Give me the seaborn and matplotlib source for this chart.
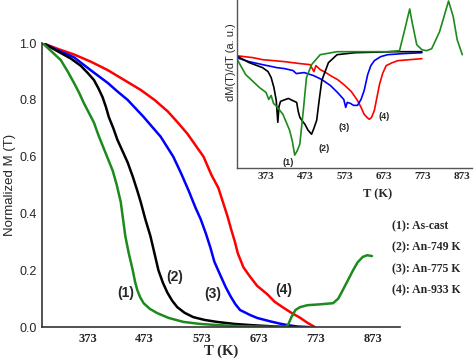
import matplotlib
matplotlib.use("Agg")
import matplotlib.pyplot as plt
import seaborn as sns

# Curvas principales: M(T) normalizada
t_ascast = [294, 310, 326, 338, 349, 358, 366, 375, 384, 392, 401, 409, 417, 424, 431, 435, 439, 445, 452, 456, 460, 465, 471, 482, 495, 515, 541, 570, 600, 640, 690, 718, 724, 730, 737, 745, 758, 780, 803, 812, 820, 829, 838, 846, 855, 863, 871]
m_ascast = [1.0, 0.97, 0.94, 0.90, 0.86, 0.825, 0.79, 0.755, 0.72, 0.675, 0.63, 0.59, 0.55, 0.50, 0.44, 0.38, 0.32, 0.26, 0.20, 0.16, 0.13, 0.105, 0.084, 0.064, 0.049, 0.032, 0.018, 0.011, 0.007, 0.003, 0.001, 0.0, 0.007, 0.035, 0.06, 0.07, 0.077, 0.08, 0.084, 0.10, 0.13, 0.165, 0.20, 0.228, 0.247, 0.253, 0.25]

t_an749 = [294, 310, 326, 344, 361, 373, 384, 392, 399, 405, 410, 418, 425, 434, 443, 452, 460, 466, 474, 483, 490, 497, 505, 513, 521, 530, 543, 558, 578, 600, 630, 658, 700, 740]
m_an749 = [1.0, 0.983, 0.965, 0.945, 0.92, 0.895, 0.87, 0.84, 0.81, 0.775, 0.74, 0.70, 0.66, 0.62, 0.58, 0.53, 0.48, 0.44, 0.38, 0.32, 0.26, 0.20, 0.155, 0.12, 0.093, 0.07, 0.05, 0.035, 0.025, 0.018, 0.011, 0.007, 0.002, 0.0]

t_an775 = [294, 320, 349, 378, 408, 425, 443, 457, 471, 486, 501, 512, 523, 537, 550, 562, 571, 580, 588, 595, 606, 615, 624, 632, 640, 658, 670, 693, 710, 723, 740, 760]
m_an775 = [1.0, 0.975, 0.95, 0.905, 0.86, 0.83, 0.80, 0.77, 0.74, 0.705, 0.67, 0.635, 0.60, 0.54, 0.48, 0.42, 0.38, 0.33, 0.28, 0.23, 0.18, 0.14, 0.106, 0.08, 0.06, 0.042, 0.032, 0.02, 0.012, 0.007, 0.002, 0.0]

t_an933 = [294, 320, 349, 378, 408, 437, 466, 490, 513, 531, 548, 562, 576, 590, 602, 610, 618, 625, 631, 636, 646, 658, 670, 688, 700, 716, 730, 745, 758, 771]
m_an933 = [1.0, 0.98, 0.96, 0.935, 0.905, 0.87, 0.835, 0.80, 0.76, 0.72, 0.68, 0.64, 0.60, 0.535, 0.49, 0.44, 0.39, 0.34, 0.30, 0.26, 0.21, 0.176, 0.145, 0.115, 0.09, 0.068, 0.05, 0.033, 0.015, 0.0]

# Inserto: dM(T)/dT (unidades arbitrarias)
td_ascast = [297, 321, 340, 356, 373, 380, 386, 392, 400, 416, 433, 440, 446, 452, 459, 468, 476, 489, 511, 554, 600, 680, 713, 725, 739, 745, 757, 770, 782, 795, 815, 838, 850, 860, 873]
d_ascast = [-6, -23, -30, -36, -41, -48, -44, -52, -55, -63, -79, -90, -104, -100, -93, -59, -26, -13, -3, 0, 0, 0, 1, 20, 43, 30, 7, 2, 1, 3, 20, 51, 35, 12, -3]

td_an749 = [297, 330, 364, 378, 386, 393, 399, 403, 406, 410, 416, 430, 440, 451, 455, 459, 466, 472, 480, 489, 495, 502, 508, 515, 532, 554, 600, 700, 770]
d_an749 = [-4, -11, -16, -20, -26, -36, -49, -71, -55, -50, -49, -47, -49, -51, -60, -66, -70, -73, -79, -83, -77, -69, -50, -29, -11, -3, -1, 0, 0]

td_an775 = [297, 330, 364, 400, 420, 442, 450, 470, 494, 515, 537, 555, 571, 576, 580, 588, 596, 606, 615, 623, 632, 640, 649, 665, 683, 720, 770]
d_an775 = [-6, -10, -13, -16, -17, -19, -22, -21, -24, -28, -34, -41, -48, -56, -51, -52, -54, -54, -48, -39, -23, -14, -9, -5, -3, -2, -1]

td_an933 = [297, 340, 364, 420, 460, 485, 495, 500, 511, 525, 537, 555, 571, 590, 606, 615, 623, 630, 636, 642, 649, 656, 662, 670, 679, 695, 709, 740, 770]
d_an933 = [-4, -6, -8, -10, -12, -13, -20, -14, -18, -21, -24, -28, -33, -40, -49, -56, -63, -66, -68, -66, -59, -45, -33, -22, -14, -11, -9, -8, -7]

labels = ["(1)", "(2)", "(3)", "(4)"]
leyenda = ["(1): As-cast", "(2): An-749 K", "(3): An-775 K", "(4): An-933 K"]
colores = ["#1c8a1c", "black", "#0000ff", "#ff0000"]
ticks_t = [373, 473, 573, 673, 773, 873]

sns.set_style("white")
plt.rcParams['font.family'] = ['Liberation Sans', 'DejaVu Sans']
serif_b = dict(family='Liberation Serif', weight='bold')

fig = plt.figure(figsize=(4.74, 3.59), dpi=100)
ax = fig.add_axes([0.0886, 0.089, 0.755, 0.791])

main_sets = [(t_ascast, m_ascast), (t_an749, m_an749), (t_an775, m_an775), (t_an933, m_an933)]
for (t, m), c in zip(main_sets[::-1], colores[::-1]):
    sns.lineplot(x=t, y=m, color=c, lw=1.8, ax=ax, sort=False)

ax.set_xlim(293, 920)
ax.set_ylim(0, 1.0)
ax.set_xticks(ticks_t)
ax.set_yticks([0.0, 0.2, 0.4, 0.6, 0.8, 1.0])
ax.set_yticklabels(["0.0", "0.2", "0.4", "0.6", "0.8", "1.0"], fontsize=9)
ax.set_xticklabels(ticks_t, fontsize=9, **serif_b)
ax.tick_params(direction='in', length=4, width=1, color='#333333', pad=4)
for s in ['top', 'right']:
    ax.spines[s].set_visible(False)
for s in ['left', 'bottom']:
    ax.spines[s].set_color('#333333')
    ax.spines[s].set_linewidth(1.2)
ax.set_ylabel("Normalized M (T)", fontsize=9.5)
ax.yaxis.set_label_coords(-0.072, 0.5)
ax.set_xlabel("T (K)", fontsize=10.5, **serif_b)
ax.xaxis.set_label_coords(0.5, -0.062)

# Etiquetas de las curvas
pos_lab = [(439, 0.12), (525, 0.176), (593, 0.116), (716, 0.13)]
for lab, (x, y) in zip(labels, pos_lab):
    ax.text(x, y, lab, fontsize=10, weight='bold', ha='center', va='center')

# Leyenda en texto
for i, txt in enumerate(leyenda):
    fig.text(0.828, 1 - (226 + 21.5 * i) / 359, txt, fontsize=8.5, **serif_b, va='center')

# Inserto
axin = fig.add_axes([0.5, 0.532, 0.496, 0.468])
ins_sets = [(td_ascast, d_ascast), (td_an749, d_an749), (td_an775, d_an775), (td_an933, d_an933)]
for (t, d), c in zip(ins_sets[::-1], colores[::-1]):
    sns.lineplot(x=t, y=d, color=c, lw=1.2, ax=axin, sort=False)
axin.set_xlim(299, 898)
axin.set_ylim(-117, 52)
axin.set_xticks(ticks_t)
axin.set_xticklabels(ticks_t, fontsize=8, **serif_b)
axin.set_yticks([])
axin.tick_params(direction='in', length=3, width=1, color='#333333', pad=3)
axin.patch.set_alpha(0)
for s in ['top', 'right']:
    axin.spines[s].set_visible(False)
for s in ['left', 'bottom']:
    axin.spines[s].set_color('#555555')
    axin.spines[s].set_linewidth(1.0)
axin.set_ylabel("dM(T)/dT (a. u.)", fontsize=8)
axin.yaxis.set_label_coords(-0.005, 0.63)
axin.set_xlabel("T (K)", fontsize=9, **serif_b)
axin.xaxis.set_label_coords(0.596, -0.12)

pos_ins = [(430, -111), (520, -97), (573, -76), (673, -65)]
for lab, (x, y) in zip(labels, pos_ins):
    axin.text(x, y, lab, fontsize=6.5, weight='bold', ha='center', va='center')

fig.savefig("out.png", dpi=100)
